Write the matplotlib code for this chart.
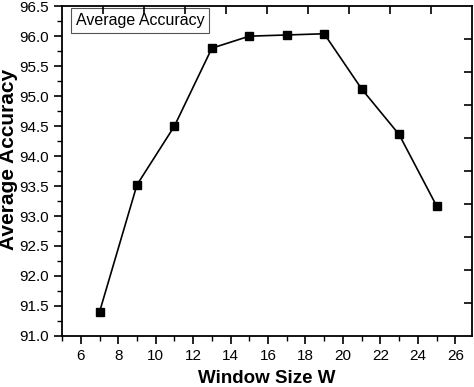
import numpy as np
import matplotlib
matplotlib.use("Agg")
import matplotlib.pyplot as plt
from matplotlib.ticker import MultipleLocator, FormatStrFormatter

window_size = [7, 9, 11, 13, 15, 17, 19, 21, 23, 25]
avg_accuracy = [91.40, 93.52, 94.50, 95.80, 96.00, 96.02, 96.04, 95.12, 94.36, 93.17]

plt.rcParams['font.family'] = ['Liberation Sans', 'DejaVu Sans']

fig = plt.figure(figsize=(4.74, 3.87), dpi=100)
ax = fig.add_axes([0.131, 0.132, 0.865, 0.852])

ax.plot(window_size, avg_accuracy, color='black', lw=1.2, marker='s',
        markersize=6, markerfacecolor='black')

ax.set_xlim(5, 26.9)
ax.set_ylim(91.0, 96.5)
ax.xaxis.set_major_locator(MultipleLocator(2))
ax.xaxis.set_minor_locator(MultipleLocator(1))
ax.yaxis.set_major_locator(MultipleLocator(0.5))
ax.yaxis.set_minor_locator(MultipleLocator(0.25))
ax.yaxis.set_major_formatter(FormatStrFormatter('%.1f'))
ax.tick_params(which='major', direction='out', length=6, width=1.2, labelsize=11)
ax.tick_params(which='minor', direction='out', length=3.5, width=1)
for s in ax.spines.values():
    s.set_linewidth(1.3)

# mirrored ticks on top and right, on their own scale, no labels
mirror = fig.add_axes(ax.get_position(), frameon=False)
mirror.set_xlim(0, 1)
mirror.set_ylim(0, 1)
mirror.set_xticks(np.arange(0.1, 1.0, 0.1))
mirror.set_yticks(np.arange(0.1, 1.0, 0.1))
mirror.xaxis.set_ticks_position('top')
mirror.yaxis.set_ticks_position('right')
mirror.tick_params(direction='in', length=6, width=1.2,
                   labeltop=False, labelbottom=False, labelleft=False, labelright=False)
mirror.patch.set_visible(False)

ax.set_xlabel('Window Size W', fontsize=13.5, fontweight='bold', va='center')
ax.set_ylabel('Average Accuracy', fontsize=15, fontweight='bold', va='center')
ax.xaxis.set_label_coords(0.5, -0.13)
ax.yaxis.set_label_coords(-0.13, 0.535)

ax.text(0.033, 0.957, 'Average Accuracy', transform=ax.transAxes, fontsize=11.5,
        va='center', ha='left',
        bbox=dict(boxstyle='square,pad=0.3', facecolor='white', edgecolor='#555555', lw=0.8))

fig.savefig('out.png', dpi=100)
